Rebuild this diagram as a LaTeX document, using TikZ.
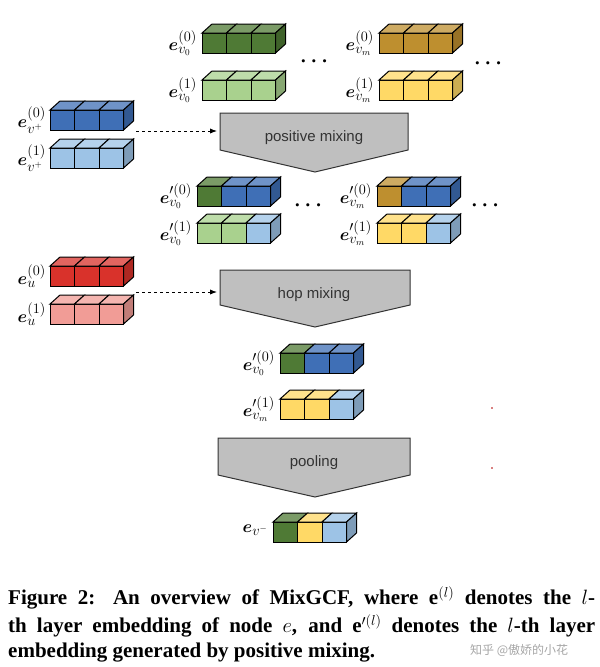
\documentclass[tikz,border=0pt]{standalone}
\usepackage{amsmath,bm}
\usepackage{fontspec}
\setmainfont{Liberation Serif}
\setsansfont{Liberation Sans}
\newfontfamily\cjk{Noto Sans CJK SC}
\usetikzlibrary{arrows.meta}
\definecolor{dg}{HTML}{4F7A35}
\definecolor{lg}{HTML}{A9D18E}
\definecolor{gd}{HTML}{BE8F2F}
\definecolor{yl}{HTML}{FFD966}
\definecolor{bl}{HTML}{3F6FB6}
\definecolor{lb}{HTML}{9DC3E6}
\definecolor{rd}{HTML}{D9322B}
\definecolor{pk}{HTML}{F19C96}
\definecolor{gr}{HTML}{BFBFBF}
\newcommand\mycube[3]{%
 \filldraw[#3,draw=black,line width=1pt] (#1,#2) rectangle ++(24.5,20);
 \filldraw[fill=#3!75!white,draw=black,line width=1pt] (#1,#2) -- ++(10,-9) -- ++(24.5,0) -- ++(-10,9) -- cycle;}
\newcommand\blk[5]{%
 \mycube{#1}{#2}{#3}\mycube{#1+24.5}{#2}{#4}\mycube{#1+49}{#2}{#5}%
 \filldraw[fill=#5!80!black,draw=black,line width=1pt] (#1+73.5,#2) -- ++(10,-9) -- ++(0,20) -- ++(-10,9) -- cycle;}
\tikzset{lab/.style={anchor=east,font=\fontsize{19}{20}\selectfont,inner sep=0pt},
 penta/.style={fill=gr,draw=black!80,line width=1pt},
 ptxt/.style={font=\sffamily\fontsize{15}{16}\selectfont,text=black!80},
 dots/.style={font=\fontsize{20}{20}\selectfont},
 captxt/.style={anchor=west,inner sep=0pt,font=\bfseries\fontsize{21}{24}\selectfont},
 darr/.style={dashed,line width=1pt,-{Latex[length=7pt]}}}
\begin{document}
\begin{tikzpicture}[x=1pt,y=-1pt]
\useasboundingbox (0,0) rectangle (600,667);
% top row
\blk{202}{33}{dg}{dg}{dg}
\blk{202}{80}{lg}{lg}{lg}
\blk{379}{33}{gd}{gd}{gd}
\blk{379}{80}{yl}{yl}{yl}
\node[lab] (l1) at (197,43) {$\bm{e}^{(0)}_{v_0}$};
\node[lab] (l2) at (197,90) {$\bm{e}^{(1)}_{v_0}$};
\node[lab] (l3) at (374,43) {$\bm{e}^{(0)}_{v_m}$};
\node[lab] (l4) at (374,90) {$\bm{e}^{(1)}_{v_m}$};
\node[dots] (d1) at (316,62) {$\bm{\cdots}$};
\node[dots] (d2) at (490,64) {$\bm{\cdots}$};
% left blue
\blk{50}{110}{bl}{bl}{bl}
\blk{50}{148}{lb}{lb}{lb}
\node[lab] (l5) at (46,120) {$\bm{e}^{(0)}_{v^+}$};
\node[lab] (l6) at (46,158) {$\bm{e}^{(1)}_{v^+}$};
% positive mixing
\draw[penta] (220,113) -- (408,113) -- (408,150) -- (315,172) -- (220,150) -- cycle;
\node[ptxt] (pm) at (314,138) {positive mixing};
\coordinate (a1) at (136,131);
\coordinate (a2) at (217,131);
\draw[darr] (a1) -- (a2);
% e' row
\blk{197}{186}{dg}{bl}{bl}
\blk{197}{223}{lg}{lg}{lb}
\blk{377}{186}{gd}{bl}{bl}
\blk{377}{223}{yl}{yl}{lb}
\node[lab] (l7) at (192,196) {$\bm{e}'^{(0)}_{v_0}$};
\node[lab] (l8) at (192,233) {$\bm{e}'^{(1)}_{v_0}$};
\node[lab] (l9) at (372,196) {$\bm{e}'^{(0)}_{v_m}$};
\node[lab] (l10) at (372,233) {$\bm{e}'^{(1)}_{v_m}$};
\node[dots] (d3) at (310,206) {$\bm{\cdots}$};
\node[dots] (d4) at (487,206) {$\bm{\cdots}$};
% red
\blk{50}{266}{rd}{rd}{rd}
\blk{50}{304}{pk}{pk}{pk}
\node[lab] (l11) at (46,276) {$\bm{e}^{(0)}_{u}$};
\node[lab] (l12) at (46,314) {$\bm{e}^{(1)}_{u}$};
\draw[penta] (220,270) -- (410,270) -- (410,305) -- (315,327) -- (220,305) -- cycle;
\node[ptxt] (hm) at (314,295) {hop mixing};
\coordinate (b1) at (136,292);
\coordinate (b2) at (217,292);
\draw[darr] (b1) -- (b2);
% outputs
\blk{280}{353}{dg}{bl}{bl}
\blk{280}{399}{yl}{yl}{lb}
\node[lab] (l13) at (275,363) {$\bm{e}'^{(0)}_{v_0}$};
\node[lab] (l14) at (275,409) {$\bm{e}'^{(1)}_{v_m}$};
\fill[red!70!black] (492,408) circle (0.9);
\fill[red!70!black] (492,468) circle (0.9);
\draw[penta] (218,438) -- (410,438) -- (410,475) -- (315,497) -- (218,475) -- cycle;
\node[ptxt] (po) at (314,463) {pooling};
\blk{273}{522}{dg}{yl}{lb}
\node[lab] (l15) at (268,530) {$\bm{e}_{v^-}$};
% caption
\node[captxt] (c1) at (8,598) {\makebox[587pt][s]{Figure 2: An overview of MixGCF, where e$^{(l)}$ denotes the $l$-}};
\node[captxt] (c2) at (8,626) {\makebox[587pt][s]{th layer embedding of node $e$, and e$'^{(l)}$ denotes the $l$-th layer}};
\node[captxt] (c3) at (8,653) {embedding generated by positive mixing.};
\node[anchor=west,inner sep=0pt,text=black!35,font=\cjk\fontsize{12}{13}\selectfont] (wm) at (470,650) {知乎 @傲娇的小花};
\end{tikzpicture}
\end{document}
